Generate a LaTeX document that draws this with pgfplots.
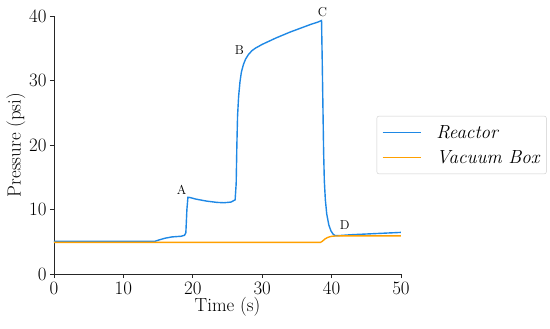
\documentclass[border=0pt]{standalone}
\usepackage{fontspec}
\usepackage{pgfplots}
\pgfplotsset{compat=1.18}
\definecolor{reactor}{RGB}{30,136,229}
\definecolor{vacuum}{RGB}{255,160,0}
\begin{document}
\begin{tikzpicture}
\begin{axis}[
  scale only axis,
  width=347bp, height=258bp,
  xmin=0, xmax=50, ymin=0, ymax=40,
  xtick={0,10,20,30,40,50}, ytick={0,10,20,30,40},
  axis x line*=bottom, axis y line*=left,
  axis line style={line width=0.8pt, black!85},
  tick style={line width=0.8pt, black!85},
  tick align=outside, major tick length=4bp,
  /pgf/number format/assume math mode=true,
  ticklabel style={font=\fontsize{19}{21}\selectfont},
  label style={font=\fontsize{19}{21}\selectfont},
  xlabel={Time (s)}, ylabel={Pressure (psi)},
  xlabel style={yshift=4bp},
  ylabel style={yshift=-3bp},
  clip mode=individual,
  legend style={at={(axis cs:46.5,20)}, anchor=west, draw=black!20, rounded corners=2pt,
    font=\fontsize{19}{22}\selectfont\itshape, row sep=7pt, inner xsep=5pt, inner ysep=7pt},
  legend cell align=left,
  every legend image post/.append style={line width=1.5pt},
  legend image code/.code={\draw[#1] (0.1cm,0cm) -- (1.45cm,0cm); \path (1.9cm,0cm);},
]
\addplot[reactor, line width=1.4pt] coordinates {
(0,5.05) (14.5,5.05) (15.2,5.3) (16,5.55) (17,5.75) (18.3,5.85) (18.8,6.0) (19.0,6.4)
(19.15,10) (19.3,11.9) (19.6,11.85) (20.5,11.6) (22,11.3) (23.5,11.1) (24.5,11.05)
(25.5,11.15) (26.1,11.5) (26.25,14) (26.35,20) (26.45,24.5) (26.6,27.5) (26.8,29.8)
(27.0,31.3) (27.3,32.5) (27.6,33.3) (28,34.0) (28.5,34.6) (29,35.0) (30,35.6)
(31,36.1) (32,36.6) (33,37.05) (34,37.5) (35,37.9) (36,38.3) (37,38.7) (38,39.05)
(38.55,39.3) (38.65,33) (38.75,26) (38.85,19) (38.95,14.5) (39.1,11.5) (39.3,9.3)
(39.6,7.6) (39.9,6.7) (40.2,6.2) (40.5,5.95) (41,5.95) (43,6.1) (45,6.2) (47,6.3) (50,6.45)
};
\addlegendentry{Reactor}
\addplot[vacuum, line width=1.4pt] coordinates {
(0,4.9) (38.4,4.9) (38.7,5.1) (39.0,5.4) (39.4,5.65) (39.8,5.8) (40.3,5.88) (41,5.9) (45,5.9) (50,5.9)
};
\addlegendentry{Vacuum Box}
\node[font=\fontsize{13}{15}\selectfont] at (axis cs:18.4,13.0) {A};
\node[font=\fontsize{13}{15}\selectfont] at (axis cs:26.7,34.7) {B};
\node[font=\fontsize{13}{15}\selectfont] at (axis cs:38.7,40.6) {C};
\node[font=\fontsize{13}{15}\selectfont] at (axis cs:41.9,7.6) {D};
\end{axis}
\path ([xshift=-54bp,yshift=-55bp]current axis.south west) rectangle ([xshift=149bp,yshift=16bp]current axis.north east);
\end{tikzpicture}
\end{document}
